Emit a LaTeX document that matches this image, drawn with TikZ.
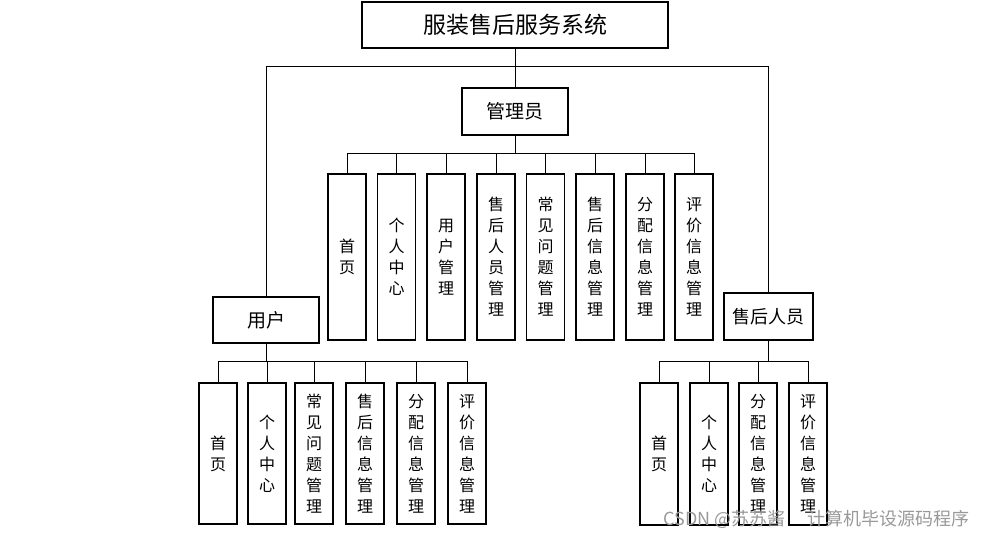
\documentclass[tikz,border=0pt]{standalone}
\usepackage{fontspec}
\setmainfont{Noto Sans CJK SC}
\usepackage{tikz}
\usetikzlibrary{positioning}
\def\childW{38pt}
\def\busGap{18}
\begin{document}
\begin{tikzpicture}[
    x=1pt, y=-1pt,
    line width=0.9pt,
    box/.style={rectangle, draw, line width=1.2pt, inner sep=0pt, font=\fontsize{19}{22}\selectfont},
    vbox/.style={box, minimum width=\childW, text width=16pt, align=center, font=\fontsize{16}{21}\selectfont}
]
\useasboundingbox (0,0) rectangle (985,538);
% top levels
\node[box, minimum width=306pt, minimum height=46pt, font=\fontsize{23}{25}\selectfont] (sys) at (515,25) {服装售后服务系统};
\node[box, minimum width=106pt, minimum height=47pt] (adm) at (515,111.5) {管理员};
\node[box, minimum width=106pt, minimum height=46pt] (user) at (266,320) {用户};
\node[box, minimum width=89pt, minimum height=47pt, font=\fontsize{18}{20}\selectfont] (staff) at (768.5,316.5) {售后人员};
\draw (sys.south) -- (adm.north);
\draw (sys.south) -- ++(0,\busGap) -| (user.north);
\draw (sys.south) -- ++(0,\busGap) -| (staff.north);

% admin functions
\foreach \x/\txt [count=\i] in {347/首\\页, 396.5/个\\人\\中\\心, 446/用\\户\\管\\理, 496/售\\后\\人\\员\\管\\理,
    545.5/常\\见\\问\\题\\管\\理, 595/售\\后\\信\\息\\管\\理, 645/分\\配\\信\\息\\管\\理, 694/评\\价\\信\\息\\管\\理}{
  \node[vbox, minimum height=166pt] (a\i) at (\x,257) {\txt};
  \draw (adm.south) -- ++(0,\busGap) -| (a\i.north);
}

% user functions
\foreach \x/\txt [count=\i] in {218/首\\页, 267/个\\人\\中\\心, 314/常\\见\\问\\题\\管\\理,
    365/售\\后\\信\\息\\管\\理, 416/分\\配\\信\\息\\管\\理, 467/评\\价\\信\\息\\管\\理}{
  \node[vbox, minimum height=141pt] (u\i) at (\x,453.5) {\txt};
  \draw (user.south) -- ++(0,\busGap) -| (u\i.north);
}

% staff functions
\foreach \x/\txt [count=\i] in {659/首\\页, 709/个\\人\\中\\心, 758/分\\配\\信\\息\\管\\理, 808/评\\价\\信\\息\\管\\理}{
  \node[vbox, minimum height=142pt] (s\i) at (\x,454) {\txt};
  \draw (staff.south) -- ++(0,\busGap+3) -| (s\i.north);
}

\node[text=black!40, font=\fontsize{18}{20}\selectfont, anchor=east, inner sep=0pt] (mark) at (970,519) {CSDN @苏苏酱 \quad 计算机毕设源码程序};
\end{tikzpicture}
\end{document}
